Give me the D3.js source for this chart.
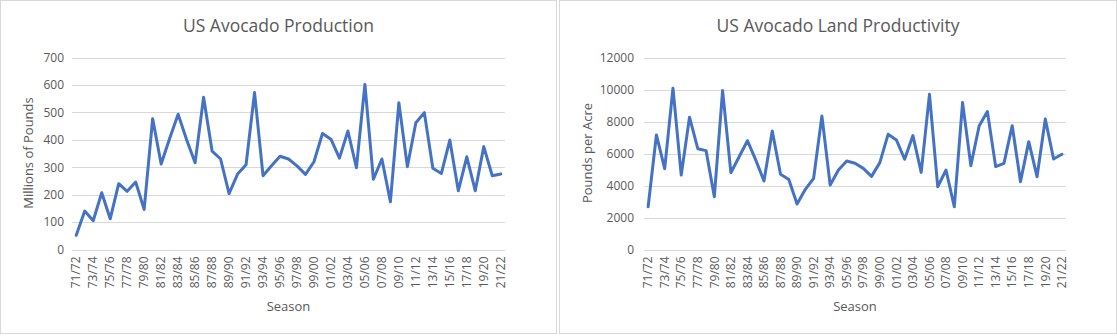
<!DOCTYPE html>
<html><head><meta charset="utf-8">
<script src="https://cdn.jsdelivr.net/npm/d3@7"></script>
<style>
html,body{margin:0;padding:0;background:#fff;}
svg{display:block;}
text{font-family:"Open Sans","Noto Sans",sans-serif;}
</style></head>
<body><svg id="c" width="1117" height="336"></svg>
<script>
const seasons = ["71/72","72/73","73/74","74/75","75/76","76/77","77/78","78/79","79/80","80/81",
"81/82","82/83","83/84","84/85","85/86","86/87","87/88","88/89","89/90","90/91",
"91/92","92/93","93/94","94/95","95/96","96/97","97/98","98/99","99/00","00/01",
"01/02","02/03","03/04","04/05","05/06","06/07","07/08","08/09","09/10","10/11",
"11/12","12/13","13/14","14/15","15/16","16/17","17/18","18/19","19/20","20/21","21/22"];
const production = [52,140,105,207,112,240,212,246,146,477,
312,405,493,400,316,555,359,330,204,275,
309,572,269,305,340,330,305,274,320,423,
402,333,432,298,602,256,330,174,535,302,
462,499,296,277,399,214,338,214,375,269,275];
const productivity = [2670,7160,5050,10080,4650,8270,6300,6180,3300,9930,
4800,5800,6800,5600,4280,7410,4700,4380,2840,3760,
4450,8350,4030,4970,5530,5390,5070,4570,5430,7200,
6850,5640,7120,4820,9700,3920,4970,2670,9180,5240,
7720,8620,5180,5380,7740,4240,6740,4550,8160,5660,5950];
const prodTicks = [0,100,200,300,400,500,600,700];
const landTicks = [0,2000,4000,6000,8000,10000,12000];

const svg = d3.select("#c");
const gray = "#595959";

function panel(cfg){
  const g = svg.append("g");
  g.append("rect").attr("x",cfg.px+0.5).attr("y",0.5).attr("width",cfg.pw-1).attr("height",333)
    .attr("fill","#fff").attr("stroke","#d9d9d9").attr("stroke-width",1);
  g.append("text").attr("x",cfg.px+cfg.pw/2).attr("y",32).attr("text-anchor","middle")
    .attr("font-size",17.5).attr("fill",gray).text(cfg.title);
  const x = d3.scaleBand().domain(seasons).range([cfg.x0,cfg.x1]);
  const y = d3.scaleLinear().domain([0,cfg.max]).range([249.5,57.5]);
  g.append("g").selectAll("line").data(cfg.ticks).join("line")
    .attr("x1",cfg.x0).attr("x2",cfg.x1).attr("y1",d=>Math.round(y(d))+0.5).attr("y2",d=>Math.round(y(d))+0.5)
    .attr("stroke","#d9d9d9").attr("stroke-width",1);
  const ya = g.append("g").attr("transform",`translate(${cfg.x0},0)`)
    .call(d3.axisLeft(y).tickValues(cfg.ticks).tickFormat(d3.format("d")).tickSize(0).tickPadding(cfg.pad));
  ya.select(".domain").remove();
  ya.selectAll("text").attr("font-size",12).attr("fill",gray).attr("font-family","'Open Sans',sans-serif");
  const xa = g.append("g")
    .call(d3.axisBottom(x).tickValues(seasons.filter((d,i)=>i%2===0)).tickSize(0).tickPadding(0));
  xa.select(".domain").remove();
  xa.selectAll(".tick").attr("transform",d=>`translate(${x(d)+x.bandwidth()/2},254)`);
  xa.selectAll("text").attr("font-size",12).attr("fill",gray).attr("font-family","'Open Sans',sans-serif")
    .attr("transform","rotate(-90)").attr("text-anchor","end").attr("dx","-0.2em").attr("dy","0.35em").attr("y",0).attr("x",0);
  g.append("text").attr("transform",`translate(${cfg.yt},153) rotate(-90)`).attr("text-anchor","middle")
    .attr("font-size",13).attr("fill",gray).text(cfg.ytitle);
  g.append("text").attr("x",(cfg.x0+cfg.x1)/2).attr("y",311).attr("text-anchor","middle")
    .attr("font-size",13).attr("fill",gray).text("Season");
  const line = d3.line().x((d,i)=>x(seasons[i])+x.bandwidth()/2).y(d=>y(d));
  g.append("path").datum(cfg.data).attr("d",line).attr("fill","none")
    .attr("stroke","#4472C4").attr("stroke-width",3).attr("stroke-linejoin","round").attr("stroke-linecap","round");
}

panel({px:0,pw:557,title:"US Avocado Production",x0:72,x1:505,max:700,ticks:prodTicks,data:production,
  ytitle:"Millions of Pounds",yt:33,pad:8});
panel({px:559,pw:558,title:"US Avocado Land Productivity",x0:644,x1:1066,max:12000,ticks:landTicks,data:productivity,
  ytitle:"Pounds per Acre",yt:592,pad:10});
</script></body></html>
